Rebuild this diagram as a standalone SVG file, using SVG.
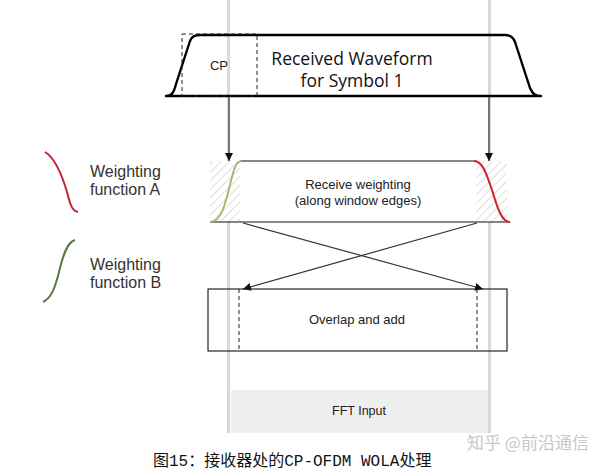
<svg xmlns="http://www.w3.org/2000/svg" width="616" height="473" viewBox="0 0 616 473">
<defs>
<style>
.bar{fill:#d9d9d9}
.lbl{font-family:"Liberation Sans",Arial,sans-serif;fill:#222}
.side{font-family:"Liberation Sans",Arial,sans-serif;fill:#333;font-size:16px}
.conn{stroke:#333;stroke-width:1.2;fill:none}
.dash{stroke:#222;stroke-width:1;stroke-dasharray:4,3;fill:none}
</style>
<pattern id="hatch" width="6" height="6" patternUnits="userSpaceOnUse" patternTransform="rotate(45)">
<rect width="6" height="6" fill="#fff"/>
<line x1="0" y1="0" x2="0" y2="6" stroke="#c8c8c8" stroke-width="1.2"/>
</pattern>
<marker id="arr" viewBox="0 0 10 10" refX="10" refY="5" markerWidth="8" markerHeight="8" markerUnits="userSpaceOnUse" orient="auto">
<path d="M0,0 L10,5 L0,10 z" fill="#111"/>
</marker>
</defs>
<rect width="616" height="473" fill="#fff"/>
<g id="bars">
<rect class="bar" x="227" y="0" width="3" height="433"/>
<rect class="bar" x="488" y="0" width="3" height="433"/>
</g>
<g id="fft">
<rect x="231" y="390" width="257" height="43" fill="#efefef"/>
<text class="lbl" x="359" y="415" font-size="12.5" text-anchor="middle">FFT Input</text>
</g>
<g id="waveform">
<path d="M166 96 C172 96 174 92 176 84 L190 41 C192 36 195 35 201 35 L505 35 C510 35 513 37 515 42 L530 88 C533 95 536 96 541 96 Z" fill="none" stroke="#000" stroke-width="2.4" stroke-linejoin="round"/>
<rect class="dash" x="182" y="34" width="75" height="62"/>
<text class="lbl" x="219" y="70" font-size="13" text-anchor="middle">CP</text>
<text x="352" y="65" font-family="'Open Sans',sans-serif" font-size="17.5" fill="#111" text-anchor="middle">Received Waveform</text>
<text x="352" y="87" font-family="'Open Sans',sans-serif" font-size="17.5" fill="#111" text-anchor="middle">for Symbol 1</text>
</g>
<g id="weighting">
<rect x="210" y="161" width="30" height="61" fill="url(#hatch)"/>
<rect x="476" y="161" width="31" height="61" fill="url(#hatch)"/>
<rect x="240" y="161" width="236" height="61" fill="#fff"/>
<path d="M240 161 L476 161" stroke="#111" stroke-width="1.2"/>
<path d="M210 222 L510 222" stroke="#111" stroke-width="1.2"/>
<path d="M210 222 C222 222 226 200 230 185 C234 168 236 161 242 161" fill="none" stroke="#9bb86a" stroke-width="1.8"/>
<path d="M474 161 C482 161 486 172 492 190 C498 210 502 222 510 222" fill="none" stroke="#d0202a" stroke-width="2"/>
<text class="lbl" x="358" y="189" font-size="13" text-anchor="middle">Receive weighting</text>
<text class="lbl" x="358" y="205" font-size="13" text-anchor="middle">(along window edges)</text>
</g>
<g id="overlap">
<rect x="208" y="289" width="299" height="62" fill="none" stroke="#111" stroke-width="1.1"/>
<line class="dash" x1="239" y1="289" x2="239" y2="351"/>
<line class="dash" x1="477" y1="289" x2="477" y2="351"/>
<text class="lbl" x="357" y="324" font-size="13" text-anchor="middle">Overlap and add</text>
</g>
<g id="legendA">
<path d="M45 152 C55 158 62 175 67 192 C70 204 72 211 78 212" fill="none" stroke="#c0262e" stroke-width="2"/>
<text class="side" x="90" y="177">Weighting</text>
<text class="side" x="90" y="195">function A</text>
</g>
<g id="legendB">
<path d="M43 302 C52 298 56 285 60 268 C64 252 68 242 75 240" fill="none" stroke="#5d7a45" stroke-width="2"/>
<text class="side" x="90" y="270">Weighting</text>
<text class="side" x="90" y="288">function B</text>
</g>
<g id="connectors">
<line class="conn" x1="229" y1="97" x2="229" y2="161" marker-end="url(#arr)"/>
<line class="conn" x1="489" y1="97" x2="489" y2="161" marker-end="url(#arr)"/>
<line class="conn" x1="243" y1="223" x2="483" y2="289" marker-end="url(#arr)"/>
<line class="conn" x1="477" y1="223" x2="243" y2="289" marker-end="url(#arr)"/>
</g>
<text x="153" y="466" font-family="'Liberation Mono','Noto Sans CJK SC',monospace" font-size="16" fill="#111">图15：接收器处的CP-OFDM WOLA处理</text>
<text x="467" y="449" font-family="'Noto Sans CJK SC',sans-serif" font-size="17" fill="#c8c8c8">知乎 @前沿通信</text>
</svg>
